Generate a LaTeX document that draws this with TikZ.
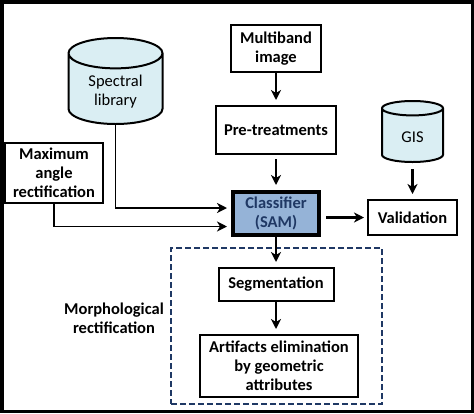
\documentclass[tikz,border=0pt]{standalone}
\usepackage{fontspec}
\setmainfont{Carlito}
\usetikzlibrary{positioning,shapes.geometric,arrows.meta}

\definecolor{dbblue}{HTML}{DAEEF3}
\definecolor{samblue}{HTML}{95B3D7}
\definecolor{navy}{HTML}{1F3864}
\newcommand{\boxfont}{\fontsize{16.5}{19}\selectfont}

\tikzset{
  proc/.style={draw, line width=2pt, align=center, inner sep=0pt, font=\boxfont\bfseries},
  db/.style={cylinder, shape border rotate=90, aspect=0.5, draw, line width=2pt,
    fill=dbblue, align=center, font=\boxfont, anchor=shape center},
  flow/.style={-{Stealth[length=10pt,width=10pt,inset=3pt]}, line width=2.2pt, shorten >=5pt},
}

\begin{document}
\begin{tikzpicture}[x=1pt,y=-1pt]
   \useasboundingbox (0,0) rectangle (474,413);
   \draw[line width=3.5pt] (1.75,1.75) rectangle (472.25,411.25);

   \node[db, minimum width=94pt, minimum height=86pt] (lib) at (115.5,81) {Spectral\\library} ; %
   \node[proc, minimum width=90pt, minimum height=47pt] (multi) at (276,48.5) {Multiband\\image} ; %
   \node[proc, minimum width=120pt, minimum height=48pt] (pre) at (276,130) {Pre-treatments} ; %
   \node[proc, minimum width=86pt, minimum height=43pt,
     line width=4pt, fill=samblue, text=navy] (cls) at (276,213.5) {Classifier\\(SAM)} ; %
   \node[proc, minimum width=89pt, minimum height=35pt] (val) at (412.5,217.5) {Validation} ; %
   \node[db, minimum width=61pt, minimum height=61pt] (gis) at (412.5,131.5) {GIS} ; %
   \node[proc, minimum width=98pt, minimum height=60pt] (angle) at (54,173) {Maximum\\angle\\rectification} ; %

   \node[draw=navy, dash pattern=on 6pt off 3pt, line width=1.8pt, minimum width=211pt, minimum height=156pt] (morphbox) at (276.5,326) {} ; %
   \node[proc, minimum width=115pt, minimum height=33pt] (seg) at (276,284.5) {Segmentation} ; %
   \node[proc, minimum width=158pt, minimum height=62pt] (art) at (279,366) {Artifacts elimination\\by geometric\\attributes} ; %
   \node[font=\boxfont\bfseries, align=center] (morph) at (114,318) {Morphological\\rectification} ; %

   \draw[flow] (multi) -- (pre) ;
   \draw[flow, shorten <=4pt] (pre) -- (cls) ;
   \draw[flow] (cls) -- (seg) ;
   \draw[flow] (seg) -- (seg |- art.north) ;
   \draw[flow, shorten <=6pt] (gis) -- (val) ;
   \draw[flow, shorten <=5pt, shorten >=3pt] (cls.east |- val.west) -- (val.west) ;
   \draw[flow, line width=1.8pt, shorten >=4pt] (lib.bottom) |- ([yshift=5.5pt]cls.west) ;
   \draw[flow, line width=1.8pt, shorten >=4pt] (angle.south) |- ([yshift=-13pt]cls.west) ;

\end{tikzpicture}
\end{document}
